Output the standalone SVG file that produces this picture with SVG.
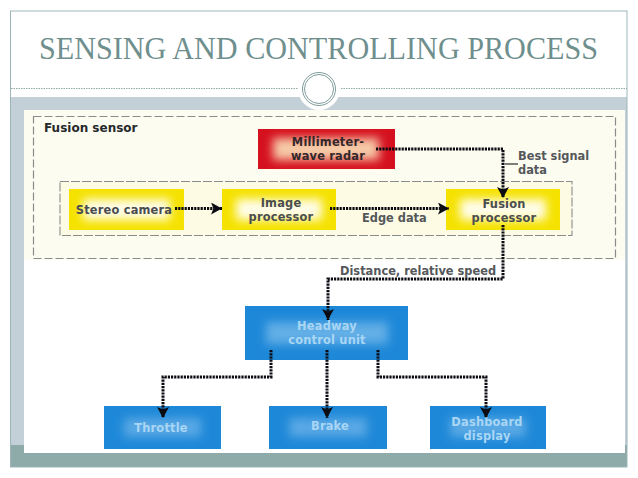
<svg xmlns="http://www.w3.org/2000/svg" width="638" height="478" viewBox="0 0 638 478">
<defs>
<style>
.lab{font-family:"DejaVu Sans",sans-serif;font-size:11.400px;font-weight:700;fill:#4a4d50;text-anchor:middle;letter-spacing:.2px}
.st{font-family:"DejaVu Sans",sans-serif;font-size:11.400px;font-weight:700;fill:#55585b}
.con{fill:none;stroke:#0b0b12;stroke-width:3;stroke-dasharray:2.2 1}
.yel{fill:#f5e200}.blu{fill:#1e88d8}
</style>
<filter id="b" x="-30%" y="-50%" width="160%" height="200%"><feGaussianBlur stdDeviation="5"/></filter>
<marker id="a" markerWidth="14" markerHeight="12" refX="11" refY="6" orient="auto" markerUnits="userSpaceOnUse"><path d="M0 0L11 6L0 12L2.500 6Z" fill="#0b0b12"/></marker>
</defs>
<rect width="638" height="478" fill="#fff"/>
<rect x="11" y="97" width="616" height="349" fill="#c4d0d8"/>
<rect x="11" y="445" width="616" height="22" fill="#8eaaa9"/>
<rect x="10.500" y="11" width="616.500" height="456" fill="none" stroke="#9db5b8"/>
<line x1="11" y1="88.500" x2="627" y2="88.500" stroke="#8eaaa9" stroke-dasharray="1.500 1"/>
<text x="318.500" y="59" font-family="Liberation Serif,serif" font-size="32" fill="#6f8f8e" text-anchor="middle" textLength="559" lengthAdjust="spacingAndGlyphs">SENSING AND CONTROLLING PROCESS</text>
<rect x="24" y="110" width="601" height="343" fill="#fff"/>
<rect x="24" y="110" width="601" height="150" fill="#fdfcf0"/>
<circle cx="319" cy="89" r="21" fill="#fff"/>
<circle cx="319" cy="89" r="16.500" fill="#fff" stroke="#7f9c9c"/>
<circle cx="319" cy="89" r="14.500" fill="#fff" stroke="#7f9c9c"/>
<g id="fusion-sensor">
<rect x="33.500" y="116.500" width="582" height="142" fill="none" stroke="#8a8c8c" stroke-width="1.200" stroke-dasharray="8 3"/>
<text x="44" y="132" style="font-family:'DejaVu Sans',sans-serif;font-size:12px;font-weight:700;fill:#26292b">Fusion sensor</text>
</g>
<g id="fusion-inner">
<rect x="60" y="181.500" width="512" height="54" fill="#fdfbe4" stroke="#8a8c8c" stroke-width="1.100" stroke-dasharray="9 2"/>
</g>
<g id="radar">
<rect x="258" y="129" width="137" height="40" fill="#d5101f"/>
<rect x="273" y="138" width="106" height="22" fill="#f6c9a6" filter="url(#b)"/>
<text x="328" y="146" class="lab" style="fill:#33272a">Millimeter-</text>
<text x="328" y="160" class="lab" style="fill:#33272a">wave radar</text>
</g>
<g id="stereo-camera">
<rect x="69" y="189" width="115" height="41" class="yel"/>
<rect x="83" y="199" width="87" height="21" fill="#fffde8" filter="url(#b)"/>
<text x="124" y="214" class="lab">Stereo camera</text>
</g>
<g id="image-processor">
<rect x="222" y="189" width="114" height="41" class="yel"/>
<rect x="236" y="199" width="86" height="21" fill="#fffde8" filter="url(#b)"/>
<text x="281" y="207" class="lab">Image</text>
<text x="281" y="221" class="lab">processor</text>
</g>
<g id="fusion-processor">
<rect x="446" y="189" width="114" height="41" class="yel"/>
<rect x="460" y="199" width="86" height="21" fill="#fffde8" filter="url(#b)"/>
<text x="504" y="208" class="lab">Fusion</text>
<text x="504" y="222" class="lab">processor</text>
</g>
<g id="headway">
<rect x="245" y="306" width="163" height="54" class="blu"/>
<rect x="266" y="322" width="122" height="22" fill="#62aee6" filter="url(#b)"/>
<text x="327" y="330" class="lab" style="fill:#a9d6f4">Headway</text>
<text x="327" y="344" class="lab" style="fill:#a9d6f4">control unit</text>
</g>
<g id="throttle">
<rect x="104" y="406" width="117" height="43" class="blu"/>
<rect x="124" y="418" width="77" height="19" fill="#58a8e4" filter="url(#b)"/>
<text x="161" y="432" class="lab" style="fill:#a9d6f4">Throttle</text>
</g>
<g id="brake">
<rect x="269" y="406" width="118" height="43" class="blu"/>
<rect x="289" y="418" width="78" height="19" fill="#58a8e4" filter="url(#b)"/>
<text x="330" y="430" class="lab" style="fill:#a9d6f4">Brake</text>
</g>
<g id="dashboard">
<rect x="430" y="406" width="116" height="43" class="blu"/>
<rect x="450" y="418" width="76" height="19" fill="#58a8e4" filter="url(#b)"/>
<text x="487" y="426" class="lab" style="fill:#a9d6f4">Dashboard</text>
<text x="487" y="440" class="lab" style="fill:#a9d6f4">display</text>
</g>
<g id="connectors">
<path class="con" marker-end="url(#a)" d="M376 149H503V198"/>
<path class="con" marker-end="url(#a)" d="M175 208.500H222"/>
<path class="con" marker-end="url(#a)" d="M330 208.500H449"/>
<path class="con" marker-end="url(#a)" d="M503 225V279H328V320"/>
<path class="con" marker-end="url(#a)" d="M271 350V377H163V418"/>
<path class="con" marker-end="url(#a)" d="M327 350V418"/>
<path class="con" marker-end="url(#a)" d="M378 350V377H486V418"/>
<path d="M505 164H518" fill="none" stroke="#2a2a2a" stroke-width="1.200"/>
</g>
<g id="labels">
<text x="518" y="160" class="st">Best signal</text>
<text x="518" y="174" class="st">data</text>
<text x="362" y="222" class="st">Edge data</text>
<text x="340" y="275" class="st">Distance, relative speed</text>
</g>
</svg>
